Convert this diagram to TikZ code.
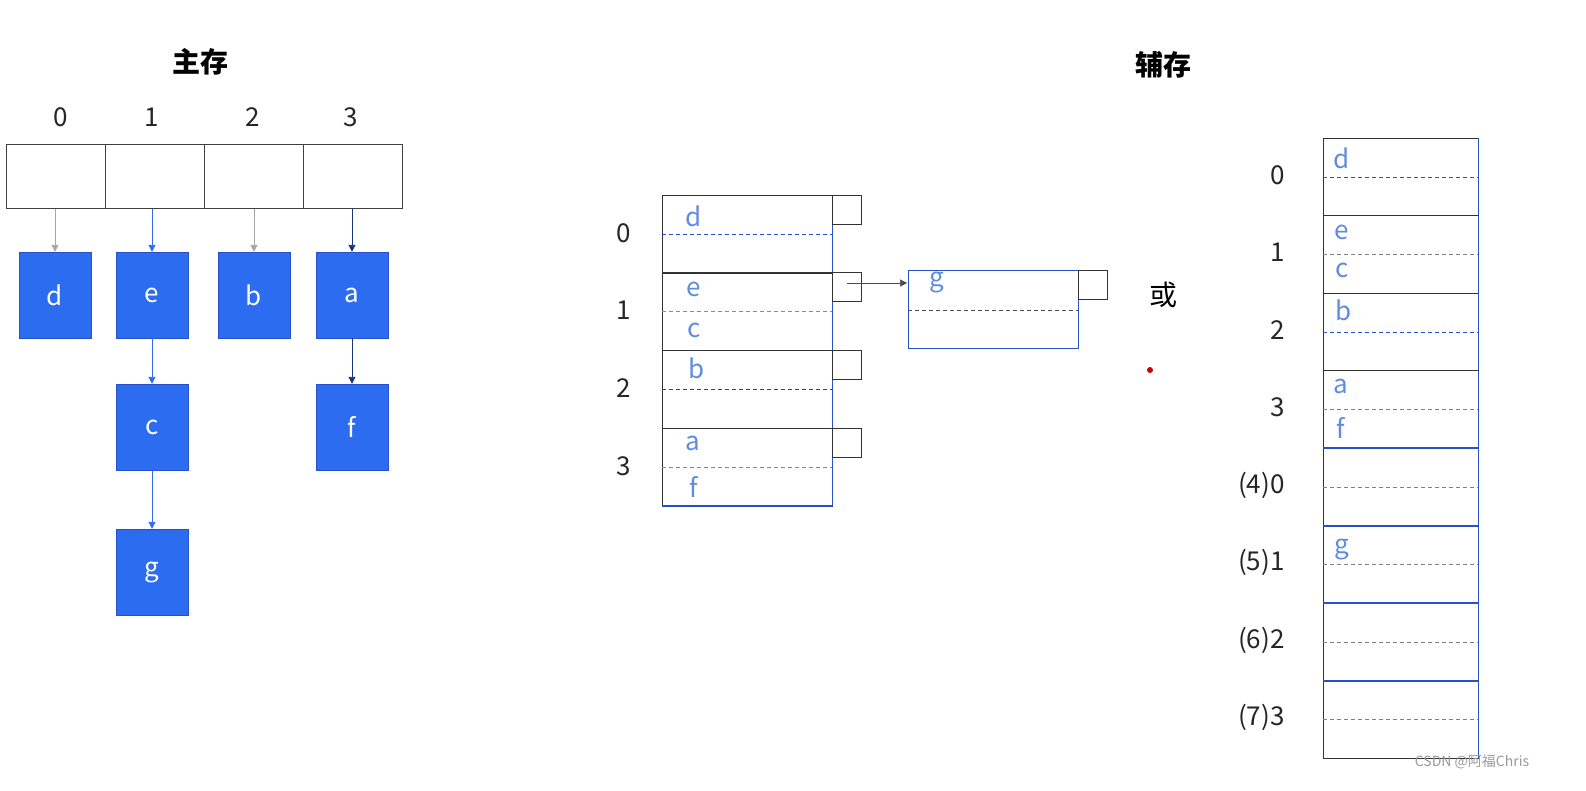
\documentclass[tikz,border=0pt]{standalone}
\usepackage{fontspec}
\setmainfont{Noto Sans CJK SC}
\usetikzlibrary{arrows.meta}
\definecolor{boxblue}{RGB}{43,108,240}
\definecolor{letterblue}{RGB}{95,140,225}
\definecolor{lineblue}{RGB}{40,80,200}
\tikzset{
  cell/.style={draw=black!75, line width=1pt, minimum width=99pt, minimum height=64pt, inner sep=0pt},
  blk/.style={draw=lineblue, fill=boxblue, minimum width=72pt, minimum height=86pt, text=white, font=\fontsize{26}{26}\selectfont, inner sep=0pt},
  ptr/.style={-{Triangle[length=7pt,width=7pt]}, line width=0.9pt},
  num/.style={font=\fontsize{26}{26}\selectfont, text=black!85},
  let/.style={font=\fontsize{26}{26}\selectfont, text=letterblue},
  dsh/.style={dashed, dash pattern=on 4pt off 3pt, line width=0.9pt},
}
\begin{document}
\begin{tikzpicture}[x=1pt,y=1pt,yscale=-1]
  \useasboundingbox (0,0) rectangle (1586,790);
  % main memory
  \node[font=\fontsize{28}{28}\selectfont\bfseries] (t1) at (200,62) {主存};
  \foreach \i/\x in {0/56,1/155,2/254,3/353} {
    \node[cell] (c\i) at (\x,176) {};
  }
  \foreach \i/\x in {0/61,1/152,2/253,3/351} {
    \node[num] (n\i) at (\x,117) {\i};
  }
  \node[blk] (d) at (55,295) {d};
  \node[blk] (e) at (152,295) {e};
  \node[blk] (b) at (254,295) {b};
  \node[blk] (a) at (352,295) {a};
  \node[blk] (c) at (152,427) {c};
  \node[blk] (f) at (352,427) {f};
  \node[blk] (g) at (152,572) {g};
  \draw[ptr, black!35] (c0.south -| d) -- (d);
  \draw[ptr, boxblue] (c1.south -| e) -- (e);
  \draw[ptr, black!35] (c2.south -| b) -- (b);
  \draw[ptr, black!50!boxblue] (c3.south -| a) -- (a);
  \draw[ptr, boxblue] (e) -- (c);
  \draw[ptr, boxblue] (c) -- (g);
  \draw[ptr, black!50!boxblue] (a) -- (f);
  % hash table with overflow chains
  \foreach \i/\y/\dc in {0/195/lineblue,1/272/black!45,2/350/lineblue!80!black,3/428/letterblue} {
    \draw[black!80, line width=1pt] (662,\y) rectangle (832,\y+78);
    \draw[lineblue, line width=1pt] (832,\y) -- (832,\y+78);
    \draw[dsh, \dc] (662,\y+39) -- (832,\y+39);
    \draw[black!80, line width=1pt] (832,\y) rectangle (861,\y+29);
    \node[num] (h\i) at (624,\y+38) {\i};
  }
  \draw[lineblue, line width=1.2pt] (662,506) -- (832,506);
  \node[let] (hd) at (694,216) {d};
  \node[let] (he) at (694,289) {e};
  \node[let] (hc) at (694,330) {c};
  \node[let] (hb) at (697,368) {b};
  \node[let] (ha) at (693,443) {a};
  \node[let] (hf) at (694,487) {f};
  \draw[lineblue, line width=1pt] (908,270) rectangle (1078,348);
  \draw[dsh, black!70] (908,310) -- (1078,310);
  \draw[black!80, line width=1pt] (1078,270) rectangle (1107,299);
  \node[let] (og) at (937,283) {g};
  \coordinate (pe) at (847,283);
  \coordinate (po) at (907,283);
  \draw[ptr, black!70, line width=0.7pt] (pe) -- (po);
  \node[font=\fontsize{28}{28}\selectfont] (or) at (1163,295) {或};
  \fill[red!80!black] (1150,370) circle (3);
  % auxiliary memory
  \node[font=\fontsize{28}{28}\selectfont\bfseries] (t2) at (1163,65) {辅存};
  \foreach \k/\lab in {0/0,1/1,2/2,3/3,4/(4)0,5/(5)1,6/(6)2,7/(7)3} {
    \pgfmathsetmacro{\y}{138+77.5*\k}
    \draw[black!80, line width=1pt] (1323,\y) rectangle (1478,\y+77.5);
    \draw[lineblue, line width=1pt] (1478,\y) -- (1478,\y+77.5);
    \draw[dsh, black!50] (1323,\y+39) -- (1478,\y+39);
    \node[num, anchor=east] (r\k) at (1288,\y+37) {\lab};
  }
  \draw[dsh, lineblue] (1323,177) -- (1478,177);
  \draw[dsh, lineblue] (1323,332) -- (1478,332);
  \foreach \y in {448,526,603,681} { \draw[lineblue, line width=1.2pt] (1323,\y) -- (1478,\y); }
  \node[let] (rd) at (1342,158) {d};
  \node[let] (re) at (1342,232) {e};
  \node[let] (rc) at (1342,270) {c};
  \node[let] (rb) at (1344,310) {b};
  \node[let] (ra) at (1341,386) {a};
  \node[let] (rf) at (1341,428) {f};
  \node[let] (rg) at (1342,549) {g};
  \node[font=\fontsize{14}{14}\selectfont, text=black!40] (wm) at (1472,762) {CSDN @阿福Chris};
\end{tikzpicture}
\end{document}
